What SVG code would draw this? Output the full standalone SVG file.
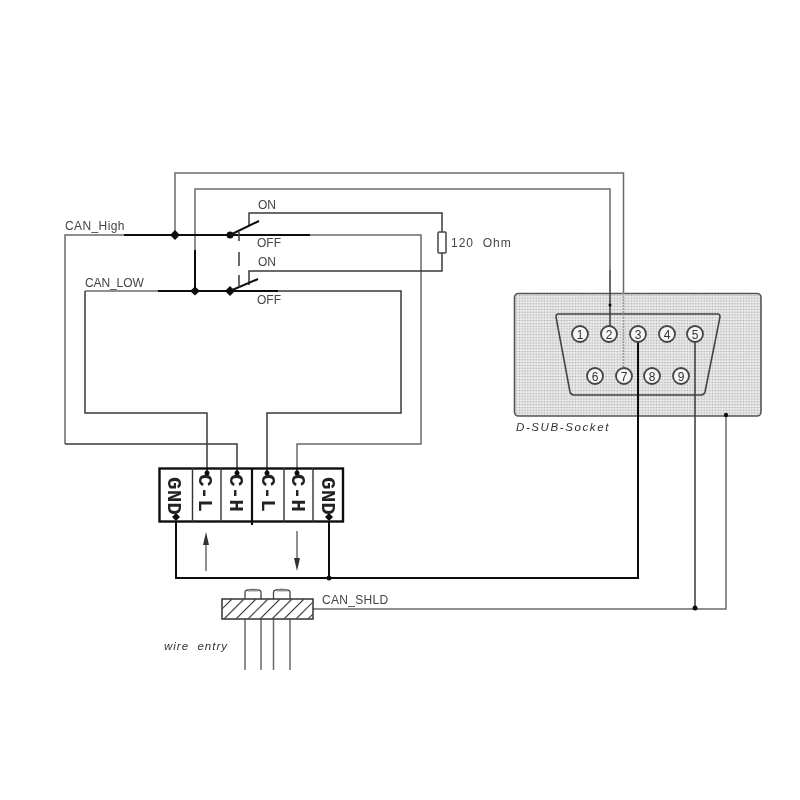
<svg xmlns="http://www.w3.org/2000/svg" width="800" height="800" viewBox="0 0 800 800">
<style>
.w{fill:none;stroke:#3a3a3a;stroke-width:1.5}
.g{fill:none;stroke:#6a6a6a;stroke-width:1.5}
.k{fill:none;stroke:#111;stroke-width:2}
.t{font-family:"Liberation Sans",Arial,sans-serif;font-size:12px;fill:#444}
.i{font-family:"Liberation Sans",Arial,sans-serif;font-size:11.500px;font-style:italic;fill:#333;letter-spacing:1px}
.p{font-family:"Liberation Sans",Arial,sans-serif;font-size:12px;fill:#333;text-anchor:middle}
.b{font-family:"Liberation Mono",monospace;font-size:21px;font-weight:bold;fill:#222;text-anchor:middle}
.d{fill:#111}
.pin{fill:#f6f6f6;stroke:#444;stroke-width:1.800}
.h{stroke:#444;stroke-width:1.200}
</style>
<defs>
<pattern id="dots" width="2.800" height="2.800" patternUnits="userSpaceOnUse">
<rect width="2.800" height="2.800" fill="#ececec"/>
<circle cx="1.400" cy="1.400" r=".8" fill="#a8a8a8"/>
</pattern>
<clipPath id="hc"><rect x="222" y="599" width="91" height="20"/></clipPath>
<filter id="soft" x="0" y="0" width="1" height="1" filterUnits="objectBoundingBox"><feGaussianBlur stdDeviation="0.4"/></filter>
</defs>
<rect width="800" height="800" fill="#fff"/>
<g filter="url(#soft)">
<rect width="800" height="800" fill="#fff"/>
<g id="dsub">
<rect x="514.500" y="293.500" width="246.500" height="122.500" rx="4" fill="url(#dots)" stroke="#555" stroke-width="1.600"/>
<path d="M558 314H718Q720 314 720 317L705 392Q704 395 701 395H574Q571 395 570 392L556 317Q556 314 558 314Z" fill="none" stroke="#444" stroke-width="1.600"/>
<text class="i" x="516" y="431" style="letter-spacing:1.600px">D-SUB-Socket</text>
</g>

<g id="connectors">
<path class="g" d="M175 235V173H623.500V293"/>
<path d="M623.500 293V370" fill="none" stroke="#999" stroke-width="1.600" stroke-dasharray="2 1"/>
<path class="g" d="M195 250V189H610V270"/>
<path class="w" d="M610 270V326"/>
<path class="k" d="M195 250V291" stroke-width="1.600"/>
<path class="k" d="M158 291H230"/>
<path class="g" d="M65 444V235H124"/>
<path class="k" d="M124 235H230"/>
<path class="k" d="M230 235H310"/>
<path class="g" d="M310 235H421V444H297V470"/>
<path class="w" d="M249 225V213H442V232M442 253V271H249V285"/>
<path class="k" d="M230 291H278" stroke-width="1.600"/>
<path class="w" d="M278 291H401V413H267V470"/>
<path class="g" d="M85 291H158"/>
<path class="w" d="M85 291V413H207V470"/>
<path class="w" d="M65 444H237V470"/>
<path class="k" d="M230 235L259 221M230 291L258 279" stroke-width="1.400"/>
<path class="w" d="M239 232V241M239 252V266M239 275V287"/>
<path class="k" d="M176 517V578H638V342" stroke-width="1.600"/>
<path class="k" d="M329 517V578" stroke-width="1.600"/>
<path class="w" d="M695 342V609"/>
<path class="g" d="M313 609H726V415"/>
<path class="g" d="M206 571V540"/>
<path d="M206 532L203 545H209Z" fill="#333"/>
<path class="g" d="M297 531V563"/>
<path d="M297 571L294 558H300Z" fill="#333"/>
<path class="g" d="M245 619V670M261 619V670M273.500 619V670M290 619V670"/>
</g>

<g id="junctions">
<path class="d" d="M175 230L180 235L175 240L170 235Z"/>
<circle class="d" cx="230" cy="235" r="3.500"/>
<path class="d" d="M195 286.500L200 291L195 295.500L190 291Z"/>
<path class="d" d="M230 286L235 291L230 296L225 291Z"/>
<circle class="d" cx="329" cy="578" r="2.500"/>
<circle class="d" cx="695" cy="608" r="2.500"/>
<circle class="d" cx="726" cy="415" r="2.200"/>
<circle class="d" cx="610" cy="305" r="1.500"/>
</g>

<g id="pins">
<g id="pin1"><circle class="pin" cx="580" cy="334" r="8"/><text class="p" x="580" y="338.500">1</text></g>
<g id="pin2"><circle class="pin" cx="609" cy="334" r="8"/><text class="p" x="609" y="338.500">2</text></g>
<g id="pin3"><circle class="pin" cx="638" cy="334" r="8"/><text class="p" x="638" y="338.500">3</text></g>
<g id="pin4"><circle class="pin" cx="667" cy="334" r="8"/><text class="p" x="667" y="338.500">4</text></g>
<g id="pin5"><circle class="pin" cx="695" cy="334" r="8"/><text class="p" x="695" y="338.500">5</text></g>
<g id="pin6"><circle class="pin" cx="595" cy="376" r="8"/><text class="p" x="595" y="380.500">6</text></g>
<g id="pin7"><circle class="pin" cx="624" cy="376" r="8"/><text class="p" x="624" y="380.500">7</text></g>
<g id="pin8"><circle class="pin" cx="652" cy="376" r="8"/><text class="p" x="652" y="380.500">8</text></g>
<g id="pin9"><circle class="pin" cx="681" cy="376" r="8"/><text class="p" x="681" y="380.500">9</text></g>
</g>

<g id="labels">
<text class="t" x="65" y="230" style="letter-spacing:.4px">CAN_High</text>
<text class="t" x="85" y="287" style="letter-spacing:-.1px">CAN_LOW</text>
<text class="t" x="258" y="209">ON</text>
<text class="t" x="257" y="247">OFF</text>
<text class="t" x="258" y="266">ON</text>
<text class="t" x="257" y="304">OFF</text>
<text class="t" x="322" y="604" style="letter-spacing:.3px">CAN_SHLD</text>
<text class="i" x="164" y="650" xml:space="preserve">wire  entry</text>
</g>

<g id="resistor">
<rect x="438" y="232" width="8" height="21" rx="1" fill="#fff" stroke="#444" stroke-width="1.500"/>
<text class="t" x="451" y="247" style="letter-spacing:1px" xml:space="preserve">120  Ohm</text>
</g>

<g id="terminal">
<rect x="159.500" y="468.500" width="183.500" height="53" fill="#fff" stroke="#111" stroke-width="2.400"/>
<path d="M192.500 468V522M221 468V522M284 468V522M313 468V522" stroke="#333" stroke-width="1.400"/>
<path d="M252 468V525" stroke="#111" stroke-width="2.200"/>
<text class="b" transform="translate(168,496) rotate(90)">GND</text>
<text class="b" transform="translate(199,493) rotate(90)">C-L</text>
<text class="b" transform="translate(230,493) rotate(90)">C-H</text>
<text class="b" transform="translate(261.500,493) rotate(90)">C-L</text>
<text class="b" transform="translate(291.500,493) rotate(90)">C-H</text>
<text class="b" transform="translate(321.500,496) rotate(90)">GND</text>
<path d="M207 468V474M237 468V474M267 468V474M297 468V474" stroke="#111" stroke-width="1.600"/>
<circle class="d" cx="207" cy="473" r="2.500"/>
<circle class="d" cx="237" cy="473" r="2.500"/>
<circle class="d" cx="267" cy="473" r="2.500"/>
<circle class="d" cx="297" cy="473" r="2.500"/>
<path class="d" d="M176 513L180 517L176 521L172 517Z"/>
<path class="d" d="M329 513L333 517L329 521L325 517Z"/>
</g>

<g id="gland">
<path d="M245 599V592Q245 589.500 253 589.500Q261 589.500 261 592V599M273.500 599V592Q273.500 589.500 281.500 589.500Q290 589.500 290 592V599" fill="#fff" stroke="#444" stroke-width="1.300"/>
<path d="M248 590.500H258M277 590.500H287" stroke="#999" stroke-width="2"/>
<rect x="222" y="599" width="91" height="20" fill="#fff" stroke="#333" stroke-width="1.500"/>
<g clip-path="url(#hc)">
<path class="h" d="M212 619L232 599M224 619L244 599M236 619L256 599M248 619L268 599M260 619L280 599M272 619L292 599M284 619L304 599M296 619L316 599M308 619L328 599"/>
</g>
</g>
</g>
</svg>
